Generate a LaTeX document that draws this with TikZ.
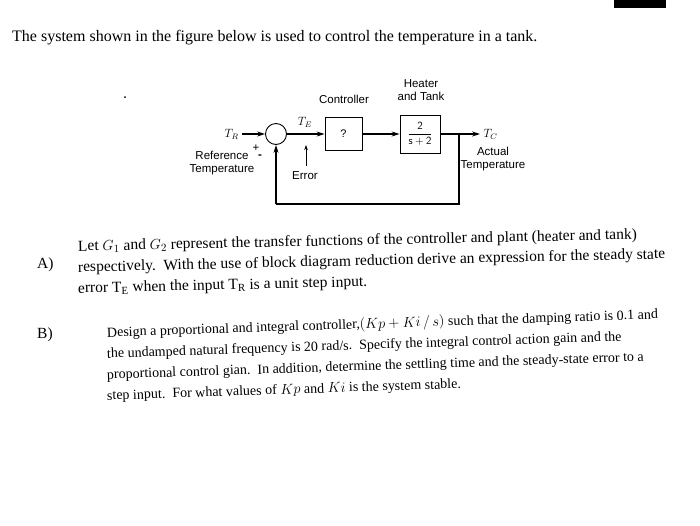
\documentclass[tikz,border=0pt]{standalone}
\usepackage{fontspec}
\setmainfont{Liberation Serif}
\newfontfamily\dsans{Liberation Sans}
\usetikzlibrary{arrows.meta}
\begin{document}
\begin{tikzpicture}[x=1pt,y=-1pt,
  blk/.style={draw,line width=0.9pt,inner sep=0pt},
  lab/.style={font=\dsans\fontsize{11.5}{12.5}\selectfont,align=center},
  sig/.style={line width=1.1pt,-{Stealth[length=8pt,width=5pt]}},
  body/.style={anchor=base west,inner sep=0pt,font=\fontsize{15.5}{17}\selectfont},
  bodyb/.style={anchor=base west,inner sep=0pt,font=\fontsize{14}{16}\selectfont}]
\useasboundingbox[fill=white] (0,0) rectangle (700,525);
\fill (614,0) rectangle (666,8);
% diagram
\node[blk,circle,minimum size=21pt] (sum) at (276,134) {};
\node[blk,minimum width=37pt,minimum height=33pt] (ctrl) at (343.5,134) {\dsans\fontsize{11}{12}\selectfont ?};
\node[blk,minimum width=40pt,minimum height=38pt] (plant) at (420,134) {\dsans\fontsize{11}{12}\selectfont$\displaystyle\frac{\mathsf{2}}{\mathsf{s+2}}$};
\node[lab,anchor=east] (tr) at (242,134) {$T_R$};
\node[lab,anchor=west] (tc) at (480,134) {$T_C$};
\coordinate (br) at (459,134);
\coordinate (bb) at (459,204);
\coordinate (bl) at (276,204);
\coordinate (erra) at (306,166);
\coordinate (errb) at (306,145);
\draw[sig] (tr) -- (sum);
\draw[sig] (sum) -- (ctrl);
\draw[sig] (ctrl) -- (plant);
\draw[sig] (plant) -- (tc);
\draw[line width=1.1pt] (br) -- (bb) -- (bl);
\draw[sig] (bl) -- (sum.south);
\draw[-{Stealth[length=5pt,width=3.5pt]},line width=0.6pt] (erra) -- (errb);
\node[lab] (te) at (305,122) {$T_E$};
\node[lab] (clab) at (344,99) {Controller};
\node[lab] (hlab) at (421,90) {Heater\\and Tank};
\node[lab] (plus) at (256,148) {+};
\node[lab] (minus) at (260,157) {\textbf{-}};
\node[lab] (rlab) at (222,163) {Reference\\Temperature};
\node[lab] (alab) at (493,159) {Actual\\Temperature};
\node[lab] (elab) at (305,176) {Error};
\fill (125,97) circle (1pt);
% text
\node[anchor=base west,inner sep=0pt,font=\fontsize{16}{17}\selectfont] (t0) at (12,41) {The system shown in the figure below is used to control the temperature in a tank.};
\node[body] (a0) at (37,268) {A)};
\node[body,rotate=1.2] (a1) at (78,251) {Let $G_1$ and $G_2$ represent the transfer functions of the controller and plant (heater and tank)};
\node[body,rotate=1.3] (a2) at (78,272) {respectively.\ \ With the use of block diagram reduction derive an expression for the steady state};
\node[body,rotate=1.3] (a3) at (78,293) {error T$_\mathrm{E}$ when the input T$_\mathrm{R}$ is a unit step input.};
\node[body] (b0) at (37,338) {B)};
\node[bodyb,rotate=1.9] (b1) at (107,337) {Design a proportional and integral controller,$(Kp+Ki\,/\,s)$ such that the damping ratio is 0.1 and};
\node[bodyb,rotate=1.9] (b2) at (107,358) {the undamped natural frequency is 20 rad/s.\ \ Specify the integral control action gain and the};
\node[bodyb,rotate=1.9] (b3) at (107,379) {proportional control gian.\ \ In addition, determine the settling time and the steady-state error to a};
\node[bodyb,rotate=1.9] (b4) at (107,400) {step input.\ \ For what values of $Kp$ and $Ki$ is the system stable.};
\end{tikzpicture}
\end{document}
